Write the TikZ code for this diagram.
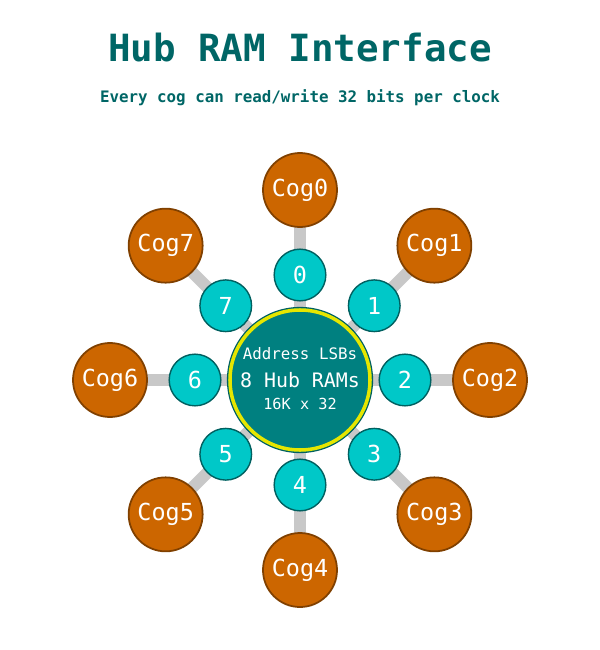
\documentclass[tikz,border=0pt]{standalone}
\usepackage{fontspec}
\setmainfont{DejaVu Sans Mono}
\usetikzlibrary{positioning}
\definecolor{hubteal}{RGB}{0,128,128}
\definecolor{titleteal}{RGB}{0,102,102}
\definecolor{darkteal}{RGB}{0,96,96}
\definecolor{portcyan}{RGB}{0,200,200}
\definecolor{cogorange}{RGB}{204,102,0}
\definecolor{cogbrown}{RGB}{128,64,0}
\definecolor{ringyellow}{RGB}{230,230,0}
\definecolor{linkgray}{RGB}{200,200,200}
\tikzset{
    cog/.style={circle, draw=cogbrown, line width=1.5pt, fill=cogorange, minimum size=2.22cm, inner sep=0pt, text=white, font=\fontsize{20}{20}\selectfont},
    port/.style={circle, draw=darkteal, line width=1.2pt, fill=portcyan, minimum size=1.55cm, inner sep=0pt, text=white, font=\fontsize{20}{20}\selectfont},
    link/.style={draw=linkgray, line width=10pt}
}
\begin{document}
\begin{tikzpicture}[x=0.03cm, y=-0.03cm]
    \useasboundingbox (0,0) rectangle (600,650);
    \node[text=titleteal, font=\fontsize{32}{32}\selectfont\bfseries] (title) at (300,48) {Hub RAM Interface};
    \node[text=titleteal, font=\fontsize{13.5}{14}\selectfont\bfseries] (subtitle) at (300,98) {Every cog can read/write 32 bits per clock};

    \coordinate (c) at (300,380);
    \foreach \i in {0,...,7} {
        \pgfmathsetmacro{\ang}{-90+45*\i}
        \path (c) ++(\ang:190) coordinate (pc\i);
        \path (c) ++(\ang:105) coordinate (pp\i);
        \draw[link] (c) -- (pc\i);
    }
    \node[circle, draw=darkteal, line width=1pt, fill=hubteal, minimum size=4.35cm, inner sep=0pt] (hub) at (c) {};
    \node[circle, draw=ringyellow, line width=3pt, minimum size=4.2cm] (ring) at (c) {};
    \node[text=white, font=\fontsize{13.5}{14}\selectfont] (lsb) at (300,354) {Address LSBs};
    \node[text=white, font=\fontsize{17}{17}\selectfont] (rams) at (300,380) {8 Hub RAMs};
    \node[text=white, font=\fontsize{13}{13}\selectfont] (size) at (300,404) {16K x 32};
    \foreach \i in {0,...,7} {
        \node[port] (port\i) at (pp\i) {\i};
        \node[cog] (cog\i) at (pc\i) {Cog\i};
    }
\end{tikzpicture}
\end{document}
